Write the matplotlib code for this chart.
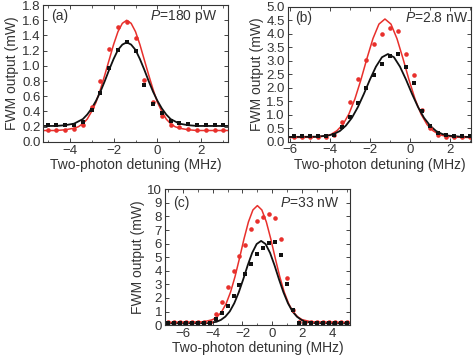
import numpy as np
import matplotlib.pyplot as plt
from matplotlib.ticker import MultipleLocator

plt.rcParams['font.family'] = ['Liberation Sans', 'DejaVu Sans']
plt.rcParams['mathtext.fontset'] = 'custom'
plt.rcParams['mathtext.it'] = 'Liberation Sans:italic'
plt.rcParams['mathtext.rm'] = 'Liberation Sans'

# ---- panel (a), P = 180 pW ----
x_a = [-5.0, -4.6, -4.2, -3.8, -3.4, -3.0, -2.6, -2.2, -1.8, -1.4, -1.0,
       -0.6, -0.2, 0.2, 0.6, 1.0, 1.4, 1.8, 2.2, 2.6, 3.0]
black_a = [0.22, 0.22, 0.22, 0.22, 0.26, 0.42, 0.64, 0.97, 1.21, 1.31, 1.19,
           0.75, 0.50, 0.38, 0.28, 0.25, 0.24, 0.22, 0.22, 0.22, 0.22]
red_a = [0.16, 0.16, 0.16, 0.17, 0.22, 0.46, 0.80, 1.22, 1.51, 1.58, 1.37,
         0.81, 0.52, 0.34, 0.22, 0.20, 0.17, 0.16, 0.16, 0.16, 0.16]
fx_a = [-5.2, -4.6, -4.2, -3.8, -3.6, -3.4, -3.2, -3.0, -2.8, -2.6, -2.4, -2.2,
        -2.0, -1.8, -1.6, -1.4, -1.2, -1.0, -0.8, -0.6, -0.4, -0.2, 0.0, 0.2,
        0.4, 0.6, 0.8, 1.0, 1.4, 1.8, 3.2]
fit_black_a = [0.21, 0.21, 0.22, 0.24, 0.27, 0.30, 0.36, 0.44, 0.54, 0.66, 0.80,
               0.95, 1.09, 1.21, 1.28, 1.31, 1.28, 1.21, 1.09, 0.95, 0.80, 0.66,
               0.54, 0.44, 0.36, 0.30, 0.27, 0.24, 0.22, 0.21, 0.21]
fit_red_a = [0.15, 0.15, 0.16, 0.18, 0.20, 0.24, 0.30, 0.40, 0.52, 0.69, 0.88,
             1.08, 1.28, 1.45, 1.56, 1.60, 1.56, 1.45, 1.28, 1.08, 0.88, 0.69,
             0.52, 0.40, 0.30, 0.24, 0.20, 0.18, 0.16, 0.15, 0.15]

# ---- panel (b), P = 2.8 nW ----
x_b = [-5.8, -5.4, -5.0, -4.6, -4.2, -3.8, -3.4, -3.0, -2.6, -2.2, -1.8, -1.4,
       -1.0, -0.6, -0.2, 0.2, 0.6, 1.0, 1.4, 1.8, 2.2, 2.6, 3.0]
black_b = [0.21, 0.21, 0.21, 0.21, 0.21, 0.23, 0.53, 0.91, 1.43, 1.98, 2.48, 2.88,
           3.16, 3.25, 2.75, 2.17, 1.12, 0.56, 0.31, 0.23, 0.21, 0.21, 0.21]
red_b = [0.18, 0.18, 0.18, 0.18, 0.18, 0.24, 0.71, 1.45, 2.32, 3.04, 3.62, 4.00,
         4.21, 4.09, 3.26, 2.47, 1.18, 0.52, 0.24, 0.18, 0.17, 0.17, 0.17]
fx_black_b = [-6.1, -4.7, -4.1, -3.8, -3.5, -3.2, -2.9, -2.6, -2.3, -2.0, -1.7,
              -1.4, -1.1, -0.8, -0.5, -0.2, 0.1, 0.4, 0.7, 1.0, 1.3, 1.6, 1.9,
              2.5, 3.0]
fit_black_b = [0.17, 0.18, 0.22, 0.28, 0.39, 0.59, 0.88, 1.28, 1.77, 2.30, 2.78,
               3.13, 3.25, 3.13, 2.78, 2.30, 1.77, 1.28, 0.88, 0.59, 0.39, 0.28,
               0.22, 0.18, 0.17]
fx_red_b = [-6.1, -4.85, -4.25, -3.95, -3.65, -3.35, -3.05, -2.75, -2.45, -2.15,
            -1.85, -1.55, -1.25, -0.95, -0.65, -0.35, -0.05, 0.25, 0.55, 0.85,
            1.15, 1.45, 1.75, 2.35, 3.0]
fit_red_b = [0.15, 0.16, 0.20, 0.26, 0.40, 0.63, 1.02, 1.58, 2.29, 3.08, 3.82,
             4.36, 4.55, 4.36, 3.82, 3.08, 2.29, 1.58, 1.02, 0.63, 0.40, 0.26,
             0.20, 0.16, 0.15]

# ---- panel (c), P = 33 nW ----
x_c = [-7.0, -6.6, -6.2, -5.8, -5.4, -5.0, -4.6, -4.2, -3.8, -3.4, -3.0, -2.6,
       -2.2, -1.8, -1.4, -1.0, -0.6, -0.2, 0.2, 0.6, 1.0, 1.4, 1.8, 2.2, 2.6,
       3.0, 3.4, 3.8, 4.2, 4.6, 5.0]
black_c = [0.12, 0.12, 0.12, 0.12, 0.12, 0.12, 0.12, 0.12, 0.42, 0.91, 1.40, 2.16,
           2.95, 3.73, 4.52, 5.21, 5.65, 6.05, 6.10, 5.16, 3.02, 1.10, 0.12, 0.12,
           0.12, 0.12, 0.12, 0.12, 0.12, 0.12, 0.12]
red_c = [0.20, 0.20, 0.20, 0.20, 0.20, 0.20, 0.20, 0.20, 0.83, 1.67, 2.82, 3.98,
         5.11, 5.90, 7.05, 7.69, 7.98, 8.18, 7.86, 6.34, 3.44, 1.10, 0.20, 0.20,
         0.20, 0.20, 0.20, 0.20, 0.20, 0.20, 0.20]
fx_black_c = [-7.2, -4.35, -3.75, -3.45, -3.15, -2.85, -2.55, -2.25, -1.95, -1.65,
              -1.35, -1.05, -0.75, -0.45, -0.15, 0.15, 0.45, 0.75, 1.05, 1.35,
              1.65, 1.95, 2.25, 2.85, 5.2]
fit_black_c = [0.12, 0.14, 0.24, 0.38, 0.62, 1.01, 1.61, 2.41, 3.37, 4.40, 5.32,
               5.97, 6.20, 5.97, 5.32, 4.40, 3.37, 2.41, 1.61, 1.01, 0.62, 0.38,
               0.24, 0.14, 0.12]
fx_red_c = [-7.2, -4.6, -4.0, -3.7, -3.4, -3.1, -2.8, -2.5, -2.2, -1.9, -1.6,
            -1.3, -1.0, -0.7, -0.4, -0.1, 0.2, 0.5, 0.8, 1.1, 1.4, 1.7, 2.0,
            2.6, 5.2]
fit_red_c = [0.20, 0.24, 0.40, 0.61, 0.98, 1.57, 2.43, 3.57, 4.92, 6.34, 7.60,
             8.48, 8.80, 8.48, 7.60, 6.34, 4.92, 3.57, 2.43, 1.57, 0.98, 0.61,
             0.40, 0.24, 0.20]

RED = '#e8302c'
BLK = '#111111'
TXT = '#333333'

fig = plt.figure(figsize=(4.74, 3.62), dpi=100)
ax_a = fig.add_axes([0.0914, 0.608, 0.389, 0.378])
ax_b = fig.add_axes([0.607, 0.609, 0.387, 0.372])
ax_c = fig.add_axes([0.348, 0.102, 0.390, 0.375])


def style(ax, xlim, ylim, ystep, yfmt):
    ax.set_xlim(*xlim)
    ax.set_ylim(*ylim)
    ax.xaxis.set_major_locator(MultipleLocator(2))
    ax.xaxis.set_minor_locator(MultipleLocator(1))
    ax.yaxis.set_major_locator(MultipleLocator(ystep))
    ax.yaxis.set_major_formatter(plt.FormatStrFormatter(yfmt))
    ax.tick_params(which='both', direction='in', top=True, right=True,
                   labelsize=9.5, labelcolor=TXT, color='#444444', pad=2)
    ax.tick_params(which='major', length=3, width=0.7)
    ax.tick_params(which='minor', length=1.8, width=0.6)
    for s in ax.spines.values():
        s.set_linewidth(0.8)
        s.set_color('#333333')
    ax.set_xlabel('Two-photon detuning (MHz)', fontsize=10, color=TXT, labelpad=1)
    ax.set_ylabel('FWM output (mW)', fontsize=10, color=TXT, labelpad=2)


# (a)
ax_a.plot(fx_a, fit_red_a, color=RED, lw=1.1)
ax_a.plot(fx_a, fit_black_a, color=BLK, lw=1.3)
ax_a.plot(x_a, red_a, 'o', color=RED, ms=3.3, mew=0)
ax_a.plot(x_a, black_a, 's', color=BLK, ms=3.0, mew=0)
style(ax_a, (-5.2, 3.2), (0, 1.8), 0.2, '%.1f')
ax_a.text(0.04, 0.92, '(a)', transform=ax_a.transAxes, fontsize=10, color=TXT, va='center')
ax_a.text(0.94, 0.92, '$\\mathit{P}$=180 pW', transform=ax_a.transAxes, fontsize=10,
          color=TXT, ha='right', va='center')

# (b)
ax_b.plot(fx_red_b, fit_red_b, color=RED, lw=1.1)
ax_b.plot(fx_black_b, fit_black_b, color=BLK, lw=1.3)
ax_b.plot(x_b, red_b, 'o', color=RED, ms=3.3, mew=0)
ax_b.plot(x_b, black_b, 's', color=BLK, ms=3.0, mew=0)
style(ax_b, (-6.1, 3.05), (0, 5.0), 0.5, '%.1f')
ax_b.text(0.04, 0.92, '(b)', transform=ax_b.transAxes, fontsize=10, color=TXT, va='center')
ax_b.text(0.985, 0.92, '$\\mathit{P}$=2.8 nW', transform=ax_b.transAxes, fontsize=10,
          color=TXT, ha='right', va='center')

# (c)
ax_c.plot(fx_red_c, fit_red_c, color=RED, lw=1.1)
ax_c.plot(fx_black_c, fit_black_c, color=BLK, lw=1.3)
ax_c.plot(x_c, red_c, 'o', color=RED, ms=3.3, mew=0)
ax_c.plot(x_c, black_c, 's', color=BLK, ms=3.0, mew=0)
style(ax_c, (-7.2, 5.2), (0, 10), 1, '%d')
ax_c.text(0.045, 0.9, '(c)', transform=ax_c.transAxes, fontsize=10, color=TXT, va='center')
ax_c.text(0.945, 0.9, '$\\mathit{P}$=33 nW', transform=ax_c.transAxes, fontsize=10,
          color=TXT, ha='right', va='center')

fig.savefig('out.png', dpi=100)
